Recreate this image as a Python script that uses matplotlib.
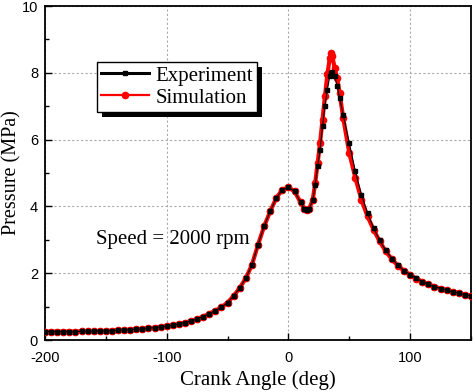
import matplotlib
matplotlib.use('Agg')
import matplotlib.pyplot as plt
from matplotlib.patches import Rectangle
from matplotlib.transforms import IdentityTransform
from matplotlib.ticker import MultipleLocator

plt.rcParams['axes.unicode_minus'] = False

# crank angle (deg) and cylinder pressure (MPa)
angle = [-200, -195, -190, -185, -180, -175, -170, -165, -160, -155, -150,
         -145, -140, -135, -130, -125, -120, -115, -110, -105, -100, -95,
         -90, -85, -80, -75, -70, -65, -60, -55, -50, -45, -40, -35, -30,
         -25, -20, -15, -10, -5, 0, 5, 10, 13, 15, 17, 20, 22, 24, 26, 28,
         30, 32, 34, 35, 36, 38, 40, 42, 45, 50, 55, 60, 65, 70, 75, 80,
         85, 90, 95, 100, 105, 110, 115, 120, 125, 130, 135, 140, 145, 150]

p_sim = [0.25, 0.25, 0.25, 0.25, 0.25, 0.25, 0.26, 0.26, 0.26, 0.27, 0.27,
         0.28, 0.29, 0.30, 0.31, 0.32, 0.33, 0.35, 0.37, 0.39, 0.41, 0.44,
         0.48, 0.52, 0.57, 0.63, 0.70, 0.79, 0.88, 0.98, 1.12, 1.32, 1.56,
         1.85, 2.25, 2.85, 3.40, 3.85, 4.25, 4.50, 4.57, 4.45, 4.12, 3.93,
         3.89, 3.92, 4.20, 4.70, 5.30, 5.90, 6.60, 7.30, 7.95, 8.45, 8.60,
         8.50, 8.15, 7.85, 7.40, 6.65, 5.60, 4.85, 4.20, 3.70, 3.30, 2.95,
         2.65, 2.42, 2.22, 2.07, 1.95, 1.84, 1.75, 1.67, 1.60, 1.54, 1.49,
         1.44, 1.40, 1.36, 1.33]

p_exp = [0.25, 0.25, 0.25, 0.25, 0.25, 0.25, 0.26, 0.26, 0.26, 0.27, 0.27,
         0.28, 0.29, 0.30, 0.31, 0.32, 0.33, 0.35, 0.37, 0.39, 0.41, 0.44,
         0.48, 0.52, 0.57, 0.63, 0.70, 0.79, 0.88, 0.98, 1.12, 1.32, 1.56,
         1.85, 2.25, 2.85, 3.40, 3.85, 4.25, 4.50, 4.57, 4.45, 4.12, 3.93,
         3.89, 3.92, 4.18, 4.65, 5.20, 5.70, 6.40, 7.00, 7.50, 7.90, 8.00,
         8.03, 7.90, 7.60, 7.25, 6.75, 5.90, 5.05, 4.35, 3.80, 3.35, 2.98,
         2.68, 2.44, 2.24, 2.08, 1.96, 1.85, 1.75, 1.67, 1.60, 1.54, 1.49,
         1.44, 1.40, 1.36, 1.33]

serif = 'Liberation Serif'
sans = 'Liberation Sans'

fig = plt.figure(figsize=(4.74, 3.92), dpi=100)
ax = fig.add_axes([45 / 474, 52 / 392, 426 / 474, 334 / 392])

ax.plot(angle, p_sim, color='#ff0000', lw=3, marker='o', ms=4.5,
        mec='#ff0000', mfc='#ff0000', label='Simulation', zorder=3)
ax.plot(angle, p_exp, color='black', lw=0.8, marker='s', ms=2.5,
        label='Experiment', zorder=4)

ax.set_xlim(-200, 150)
ax.set_ylim(0, 10)
ax.xaxis.set_major_locator(MultipleLocator(100))
ax.xaxis.set_minor_locator(MultipleLocator(50))
ax.yaxis.set_major_locator(MultipleLocator(2))
ax.yaxis.set_minor_locator(MultipleLocator(1))
ax.tick_params(which='both', direction='in', top=False, right=False,
               width=1, labelsize=10.5)
ax.tick_params(which='major', length=5)
ax.tick_params(axis='x', which='major', pad=8)
ax.tick_params(axis='y', which='major', pad=5)
ax.tick_params(which='minor', length=3)
for lab in ax.get_xticklabels() + ax.get_yticklabels():
    lab.set_fontfamily(sans)
for s in ax.spines.values():
    s.set_linewidth(1.3)

ax.grid(True, which='major', color='#aaaaaa', lw=0.8, linestyle=(0, (2, 2)))

ax.set_xlabel('Crank Angle (deg)', fontfamily=serif, fontsize=15, labelpad=4)
ax.set_ylabel('Pressure (MPa)', fontfamily=serif, fontsize=14.5, va='center')
ax.yaxis.set_label_coords(-0.077, 0.5)

ax.text(-158, 3.0, 'Speed = 2000 rpm', fontfamily=serif, fontsize=15,
        va='center', ha='left')

handles, labels = ax.get_legend_handles_labels()
leg = ax.legend(handles[::-1], labels[::-1], loc='upper left',
                bbox_to_anchor=(0.122, 0.833), borderaxespad=0,
                prop={'family': serif, 'size': 15}, numpoints=1,
                fancybox=False, framealpha=1, edgecolor='black',
                handlelength=2.3, handletextpad=0.3, labelspacing=0.12,
                borderpad=0.2)
leg.get_frame().set_linewidth(1.0)
leg.set_zorder(6)
for h in leg.legend_handles:
    h.set_linewidth(2.2 if h.get_color() == 'black' else 1.6)

# offset black shadow behind the legend box
fig.canvas.draw()
bb = leg.get_window_extent()
shadow = Rectangle((bb.x0 + 5, bb.y0 - 5), bb.width, bb.height,
                   transform=IdentityTransform(), facecolor='black',
                   edgecolor='none', zorder=5.5, clip_on=False)
ax.add_patch(shadow)

fig.savefig('out.png', dpi=100)
